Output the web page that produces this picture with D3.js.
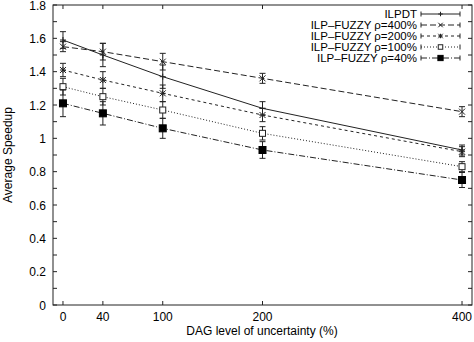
<!DOCTYPE html>
<html>
<head>
<meta charset="utf-8">
<script src="https://cdn.jsdelivr.net/npm/d3@7"></script>
<style>
  html, body { margin: 0; padding: 0; background: #fff; }
  svg { display: block; font-family: "Liberation Sans", Arial, Helvetica, sans-serif; }
</style>
</head>
<body>
<svg id="chart" width="474" height="342"></svg>
<script>
// Uncertainty levels (x) and tick labels
const uncertainty = [0, 40, 100, 200, 400];
const xTickValues = [0, 40, 100, 200, 400];
const yTickLabels = [0, 0.2, 0.4, 0.6, 0.8, 1, 1.2, 1.4, 1.6, 1.8];

// Series names
const seriesNames = [
  "ILPDT",
  "ILP\u2013FUZZY \u03C1=400%",
  "ILP\u2013FUZZY \u03C1=200%",
  "ILP\u2013FUZZY \u03C1=100%",
  "ILP\u2013FUZZY \u03C1=40%"
];

// Mean speedups
const ilpdt     = [1.59, 1.50, 1.37, 1.18, 0.93];
const fuzzy400  = [1.55, 1.52, 1.46, 1.36, 1.16];
const fuzzy200  = [1.41, 1.35, 1.27, 1.14, 0.92];
const fuzzy100  = [1.31, 1.25, 1.17, 1.03, 0.83];
const fuzzy40   = [1.21, 1.15, 1.06, 0.93, 0.75];

// Half-widths of the error bars
const ilpdtErr    = [0.05, 0.07, 0.07, 0.04, 0.03];
const fuzzy400Err = [0.03, 0.05, 0.05, 0.03, 0.03];
const fuzzy200Err = [0.04, 0.05, 0.05, 0.04, 0.03];
const fuzzy100Err = [0.05, 0.05, 0.05, 0.04, 0.03];
const fuzzy40Err  = [0.08, 0.07, 0.06, 0.05, 0.045];

const seriesValues = [ilpdt, fuzzy400, fuzzy200, fuzzy100, fuzzy40];
const seriesErrors = [ilpdtErr, fuzzy400Err, fuzzy200Err, fuzzy100Err, fuzzy40Err];
const dashes = [null, "6,3", "3,3", "1,2", "6,2,1,2"];
const markers = ["plus", "cross", "star", "square", "filled"];

const svg = d3.select("#chart");
const plotL = 53, plotR = 472, plotT = 5, plotB = 305;
const ink = "#222";
const fs = 12;
const legendFs = 11.5;

const x = d3.scaleLinear().domain([-10, 410]).range([plotL, plotR]);
const y = d3.scaleLinear().domain([0, 1.8]).range([plotB, plotT]);

// Frame
svg.append("rect")
  .attr("x", plotL).attr("y", plotT)
  .attr("width", plotR - plotL).attr("height", plotB - plotT)
  .attr("fill", "none").attr("stroke", ink).attr("stroke-width", 1);

// Y ticks every 0.1 on both sides, labels every 0.2
const yMinor = d3.range(0, 19).map(i => i / 10);
const tickLen = 4;
yMinor.forEach(v => {
  svg.append("line").attr("x1", plotL).attr("x2", plotL + tickLen)
    .attr("y1", y(v)).attr("y2", y(v)).attr("stroke", ink);
  svg.append("line").attr("x1", plotR).attr("x2", plotR - tickLen)
    .attr("y1", y(v)).attr("y2", y(v)).attr("stroke", ink);
});
svg.selectAll(".ylab").data(yTickLabels).enter().append("text")
  .attr("x", plotL - 7).attr("y", d => y(d) + 4.5)
  .attr("text-anchor", "end").attr("font-size", fs).attr("fill", "#000")
  .text(d => d3.format("~g")(d));

// X ticks on bottom and top
xTickValues.forEach(v => {
  svg.append("line").attr("x1", x(v)).attr("x2", x(v))
    .attr("y1", plotB).attr("y2", plotB - tickLen).attr("stroke", ink);
  svg.append("line").attr("x1", x(v)).attr("x2", x(v))
    .attr("y1", plotT).attr("y2", plotT + tickLen).attr("stroke", ink);
});
svg.selectAll(".xlab").data(xTickValues).enter().append("text")
  .attr("x", d => x(d)).attr("y", 321)
  .attr("text-anchor", "middle").attr("font-size", fs).attr("fill", "#000")
  .text(d => d);

// Axis titles
svg.append("text").attr("x", 262).attr("y", 335)
  .attr("text-anchor", "middle").attr("font-size", fs).text("DAG level of uncertainty (%)");
svg.append("text")
  .attr("transform", `translate(12,${(plotT + plotB) / 2}) rotate(-90)`)
  .attr("text-anchor", "middle").attr("font-size", fs).text("Average Speedup");

function drawMarker(g, type, cx, cy, k = 1) {
  const s = 3 * k;
  if (type === "plus") {
    g.append("path").attr("d", `M${cx - s},${cy}H${cx + s}M${cx},${cy - s}V${cy + s}`)
      .attr("stroke", ink).attr("fill", "none");
  } else if (type === "cross") {
    g.append("path").attr("d", `M${cx - s},${cy - s}L${cx + s},${cy + s}M${cx - s},${cy + s}L${cx + s},${cy - s}`)
      .attr("stroke", ink).attr("fill", "none");
  } else if (type === "star") {
    g.append("path").attr("d", `M${cx - s},${cy}H${cx + s}M${cx},${cy - s}V${cy + s}M${cx - s},${cy - s}L${cx + s},${cy + s}M${cx - s},${cy + s}L${cx + s},${cy - s}`)
      .attr("stroke", ink).attr("fill", "none");
  } else if (type === "square") {
    g.append("rect").attr("x", cx - s).attr("y", cy - s).attr("width", 2 * s).attr("height", 2 * s)
      .attr("fill", "#fff").attr("stroke", ink);
  } else {
    const h = 3.5 * k;
    g.append("rect").attr("x", cx - h).attr("y", cy - h).attr("width", 2 * h).attr("height", 2 * h)
      .attr("fill", "#000").attr("stroke", "#000");
  }
}

const line = d3.line().x(d => x(d[0])).y(d => y(d[1]));

seriesValues.forEach((vals, si) => {
  const g = svg.append("g");
  const pts = uncertainty.map((u, i) => [u, vals[i]]);
  g.append("path").attr("d", line(pts))
    .attr("fill", "none").attr("stroke", ink).attr("stroke-width", 1)
    .attr("stroke-dasharray", dashes[si]);
  // Error bars with caps
  pts.forEach((p, i) => {
    const e = seriesErrors[si][i];
    const cx = x(p[0]), y0 = y(p[1] - e), y1 = y(p[1] + e);
    g.append("path")
      .attr("d", `M${cx},${y0}V${y1}M${cx - 3},${y0}H${cx + 3}M${cx - 3},${y1}H${cx + 3}`)
      .attr("stroke", ink).attr("fill", "none");
    drawMarker(g, markers[si], cx, y(p[1]));
  });
});

// Legend
const legX = 417, sx0 = 421, sx1 = 460;
seriesNames.forEach((name, i) => {
  const ly = 14 + i * 11;
  svg.append("text").attr("x", legX).attr("y", ly + 4.2)
    .attr("text-anchor", "end").attr("font-size", legendFs).text(name);
  svg.append("line").attr("x1", sx0).attr("x2", sx1).attr("y1", ly).attr("y2", ly)
    .attr("stroke", ink).attr("stroke-dasharray", dashes[i]);
  svg.append("path").attr("d", `M${sx0},${ly - 2.5}V${ly + 2.5}M${sx1},${ly - 2.5}V${ly + 2.5}`)
    .attr("stroke", ink);
  drawMarker(svg.append("g"), markers[i], (sx0 + sx1) / 2, ly, 0.75);
});
</script>
</body>
</html>
